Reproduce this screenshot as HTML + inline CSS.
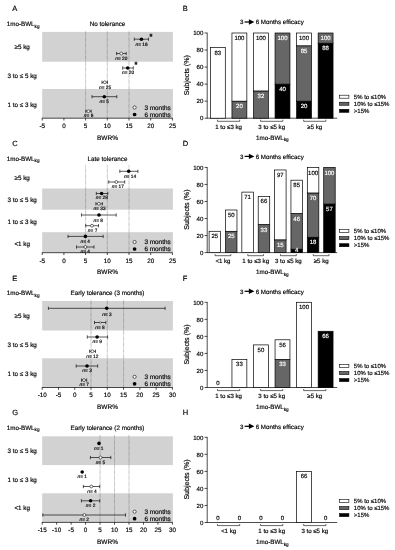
<!DOCTYPE html>
<html><head><meta charset="utf-8"><title>Figure</title>
<style>
html,body{margin:0;padding:0;background:#fff;}
svg{display:block;font-family:"Liberation Sans", Arial, sans-serif;text-rendering:geometricPrecision;}
text{stroke-width:0.16}
</style></head><body>
<svg width="395" height="550" viewBox="0 0 395 550">
<rect width="395" height="550" fill="#fff"/>
<text x="12.30" y="11.40" font-size="7.5" text-anchor="start" fill="#000" stroke="#000" >A</text>
<text x="6.80" y="26.30" font-size="6.25" text-anchor="start" stroke="#000">1mo-BWL<tspan font-size="4.6" dy="1.4">kg</tspan></text>
<text x="107.50" y="26.30" font-size="6.3" text-anchor="middle" fill="#000" stroke="#000" >No tolerance</text>
<rect x="42.20" y="31.90" width="130.70" height="29.80" fill="#d2d2d2"/>
<rect x="42.20" y="89.00" width="130.70" height="29.20" fill="#d2d2d2"/>
<text x="22.20" y="49.00" font-size="6.3" text-anchor="middle" fill="#000" stroke="#000" >≥5 kg</text>
<text x="22.20" y="78.40" font-size="6.3" text-anchor="middle" fill="#000" stroke="#000" >3 to ≤ 5 kg</text>
<text x="22.20" y="107.00" font-size="6.3" text-anchor="middle" fill="#000" stroke="#000" >1 to ≤ 3 kg</text>
<line x1="85.60" y1="30.80" x2="85.60" y2="118.20" stroke="#444" stroke-width="0.5" stroke-dasharray="0.6 0.6"/>
<line x1="107.30" y1="30.80" x2="107.30" y2="118.20" stroke="#444" stroke-width="0.5" stroke-dasharray="0.6 0.6"/>
<line x1="129.00" y1="30.80" x2="129.00" y2="118.20" stroke="#444" stroke-width="0.5" stroke-dasharray="0.6 0.6"/>
<line x1="41.90" y1="118.20" x2="172.70" y2="118.20" stroke="#000" stroke-width="0.7"/>
<line x1="42.20" y1="118.20" x2="42.20" y2="120.50" stroke="#000" stroke-width="0.7"/>
<text x="42.20" y="128.00" font-size="6.3" text-anchor="middle" fill="#000" stroke="#000" >-5</text>
<line x1="63.90" y1="118.20" x2="63.90" y2="120.50" stroke="#000" stroke-width="0.7"/>
<text x="63.90" y="128.00" font-size="6.3" text-anchor="middle" fill="#000" stroke="#000" >0</text>
<line x1="85.60" y1="118.20" x2="85.60" y2="120.50" stroke="#000" stroke-width="0.7"/>
<text x="85.60" y="128.00" font-size="6.3" text-anchor="middle" fill="#000" stroke="#000" >5</text>
<line x1="107.30" y1="118.20" x2="107.30" y2="120.50" stroke="#000" stroke-width="0.7"/>
<text x="107.30" y="128.00" font-size="6.3" text-anchor="middle" fill="#000" stroke="#000" >10</text>
<line x1="129.00" y1="118.20" x2="129.00" y2="120.50" stroke="#000" stroke-width="0.7"/>
<text x="129.00" y="128.00" font-size="6.3" text-anchor="middle" fill="#000" stroke="#000" >15</text>
<line x1="150.70" y1="118.20" x2="150.70" y2="120.50" stroke="#000" stroke-width="0.7"/>
<text x="150.70" y="128.00" font-size="6.3" text-anchor="middle" fill="#000" stroke="#000" >20</text>
<line x1="172.40" y1="118.20" x2="172.40" y2="120.50" stroke="#000" stroke-width="0.7"/>
<text x="172.40" y="128.00" font-size="6.3" text-anchor="middle" fill="#000" stroke="#000" >25</text>
<text x="107.50" y="139.60" font-size="6.5" text-anchor="middle" fill="#000" stroke="#000" >BWR%</text>
<path d="M134.30 39.20H148.50M134.30 37.55V40.85M148.50 37.55V40.85" stroke="#000" stroke-width="0.65" fill="none"/>
<circle cx="141.40" cy="39.20" r="1.8" fill="#000"/>
<text x="141.60" y="46.20" font-size="4.8" text-anchor="middle" stroke="#000"><tspan font-style="italic">n</tspan>= 16</text>
<text x="151.00" y="38.80" font-size="7.5" text-anchor="middle" fill="#000" stroke="#000" font-weight="bold">*</text>
<path d="M116.60 53.50H126.20M116.60 51.85V55.15M126.20 51.85V55.15" stroke="#000" stroke-width="0.65" fill="none"/>
<circle cx="121.30" cy="53.50" r="1.45" fill="#fff" stroke="#000" stroke-width="0.55"/>
<text x="121.40" y="59.80" font-size="4.8" text-anchor="middle" stroke="#000"><tspan font-style="italic">n</tspan>= 20</text>
<path d="M122.70 68.00H133.30M122.70 66.35V69.65M133.30 66.35V69.65" stroke="#000" stroke-width="0.65" fill="none"/>
<circle cx="127.70" cy="68.00" r="1.8" fill="#000"/>
<text x="128.10" y="74.10" font-size="4.8" text-anchor="middle" stroke="#000"><tspan font-style="italic">n</tspan>= 20</text>
<text x="135.90" y="67.40" font-size="7.5" text-anchor="middle" fill="#000" stroke="#000" font-weight="bold">*</text>
<path d="M102.00 82.30H107.40M102.00 80.65V83.95M107.40 80.65V83.95" stroke="#000" stroke-width="0.65" fill="none"/>
<circle cx="104.80" cy="82.30" r="1.45" fill="#fff" stroke="#000" stroke-width="0.55"/>
<text x="105.10" y="88.50" font-size="4.8" text-anchor="middle" stroke="#000"><tspan font-style="italic">n</tspan>= 25</text>
<path d="M92.00 96.70H116.80M92.00 95.05V98.35M116.80 95.05V98.35" stroke="#000" stroke-width="0.65" fill="none"/>
<circle cx="104.30" cy="96.70" r="1.8" fill="#000"/>
<text x="104.20" y="103.10" font-size="4.8" text-anchor="middle" stroke="#000"><tspan font-style="italic">n</tspan>= 5</text>
<path d="M85.90 111.20H91.20M85.90 109.55V112.85M91.20 109.55V112.85" stroke="#000" stroke-width="0.65" fill="none"/>
<circle cx="88.40" cy="111.20" r="1.45" fill="#fff" stroke="#000" stroke-width="0.55"/>
<text x="88.60" y="117.30" font-size="4.8" text-anchor="middle" stroke="#000"><tspan font-style="italic">n</tspan>= 6</text>
<circle cx="134.6" cy="107.50" r="1.6" fill="#fff" stroke="#000" stroke-width="0.6"/>
<circle cx="134.6" cy="114.50" r="1.85" fill="#000"/>
<text x="144.40" y="109.70" font-size="6.4" text-anchor="start" fill="#000" stroke="#000" >3 months</text>
<text x="144.40" y="116.80" font-size="6.4" text-anchor="start" fill="#000" stroke="#000" >6 months</text>
<text x="12.30" y="145.90" font-size="7.5" text-anchor="start" fill="#000" stroke="#000" >C</text>
<text x="6.80" y="160.80" font-size="6.25" text-anchor="start" stroke="#000">1mo-BWL<tspan font-size="4.6" dy="1.4">kg</tspan></text>
<text x="107.50" y="160.80" font-size="6.3" text-anchor="middle" fill="#000" stroke="#000" >Late tolerance</text>
<rect x="42.20" y="188.50" width="130.70" height="21.20" fill="#d2d2d2"/>
<rect x="42.20" y="232.20" width="130.70" height="20.50" fill="#d2d2d2"/>
<text x="22.20" y="179.70" font-size="6.3" text-anchor="middle" fill="#000" stroke="#000" >≥5 kg</text>
<text x="22.20" y="201.80" font-size="6.3" text-anchor="middle" fill="#000" stroke="#000" >3 to ≤ 5 kg</text>
<text x="22.20" y="224.40" font-size="6.3" text-anchor="middle" fill="#000" stroke="#000" >1 to ≤ 3 kg</text>
<text x="22.20" y="245.70" font-size="6.3" text-anchor="middle" fill="#000" stroke="#000" >&lt;1 kg</text>
<line x1="85.60" y1="165.40" x2="85.60" y2="252.70" stroke="#444" stroke-width="0.5" stroke-dasharray="0.6 0.6"/>
<line x1="107.30" y1="165.40" x2="107.30" y2="252.70" stroke="#444" stroke-width="0.5" stroke-dasharray="0.6 0.6"/>
<line x1="129.00" y1="165.40" x2="129.00" y2="252.70" stroke="#444" stroke-width="0.5" stroke-dasharray="0.6 0.6"/>
<line x1="41.90" y1="252.70" x2="172.70" y2="252.70" stroke="#000" stroke-width="0.7"/>
<line x1="42.20" y1="252.70" x2="42.20" y2="255.00" stroke="#000" stroke-width="0.7"/>
<text x="42.20" y="262.50" font-size="6.3" text-anchor="middle" fill="#000" stroke="#000" >-5</text>
<line x1="63.90" y1="252.70" x2="63.90" y2="255.00" stroke="#000" stroke-width="0.7"/>
<text x="63.90" y="262.50" font-size="6.3" text-anchor="middle" fill="#000" stroke="#000" >0</text>
<line x1="85.60" y1="252.70" x2="85.60" y2="255.00" stroke="#000" stroke-width="0.7"/>
<text x="85.60" y="262.50" font-size="6.3" text-anchor="middle" fill="#000" stroke="#000" >5</text>
<line x1="107.30" y1="252.70" x2="107.30" y2="255.00" stroke="#000" stroke-width="0.7"/>
<text x="107.30" y="262.50" font-size="6.3" text-anchor="middle" fill="#000" stroke="#000" >10</text>
<line x1="129.00" y1="252.70" x2="129.00" y2="255.00" stroke="#000" stroke-width="0.7"/>
<text x="129.00" y="262.50" font-size="6.3" text-anchor="middle" fill="#000" stroke="#000" >15</text>
<line x1="150.70" y1="252.70" x2="150.70" y2="255.00" stroke="#000" stroke-width="0.7"/>
<text x="150.70" y="262.50" font-size="6.3" text-anchor="middle" fill="#000" stroke="#000" >20</text>
<line x1="172.40" y1="252.70" x2="172.40" y2="255.00" stroke="#000" stroke-width="0.7"/>
<text x="172.40" y="262.50" font-size="6.3" text-anchor="middle" fill="#000" stroke="#000" >25</text>
<text x="107.50" y="274.10" font-size="6.5" text-anchor="middle" fill="#000" stroke="#000" >BWR%</text>
<path d="M119.80 171.30H137.90M119.80 169.65V172.95M137.90 169.65V172.95" stroke="#000" stroke-width="0.65" fill="none"/>
<circle cx="128.70" cy="171.30" r="1.8" fill="#000"/>
<text x="130.00" y="177.50" font-size="4.8" text-anchor="middle" stroke="#000"><tspan font-style="italic">n</tspan>= 14</text>
<path d="M108.70 182.00H124.70M108.70 180.35V183.65M124.70 180.35V183.65" stroke="#000" stroke-width="0.65" fill="none"/>
<circle cx="116.30" cy="182.00" r="1.45" fill="#fff" stroke="#000" stroke-width="0.55"/>
<text x="117.90" y="187.70" font-size="4.8" text-anchor="middle" stroke="#000"><tspan font-style="italic">n</tspan>= 17</text>
<path d="M96.30 193.50H107.80M96.30 191.85V195.15M107.80 191.85V195.15" stroke="#000" stroke-width="0.65" fill="none"/>
<circle cx="101.60" cy="193.50" r="1.8" fill="#000"/>
<text x="101.80" y="199.00" font-size="4.8" text-anchor="middle" stroke="#000"><tspan font-style="italic">n</tspan>= 28</text>
<path d="M95.90 203.80H102.40M95.90 202.15V205.45M102.40 202.15V205.45" stroke="#000" stroke-width="0.65" fill="none"/>
<circle cx="98.90" cy="203.80" r="1.45" fill="#fff" stroke="#000" stroke-width="0.55"/>
<text x="99.50" y="209.90" font-size="4.8" text-anchor="middle" stroke="#000"><tspan font-style="italic">n</tspan>= 33</text>
<path d="M81.50 215.00H116.20M81.50 213.35V216.65M116.20 213.35V216.65" stroke="#000" stroke-width="0.65" fill="none"/>
<circle cx="99.00" cy="215.00" r="1.8" fill="#000"/>
<text x="98.30" y="221.60" font-size="4.8" text-anchor="middle" stroke="#000"><tspan font-style="italic">n</tspan>= 8</text>
<path d="M85.70 225.70H98.50M85.70 224.05V227.35M98.50 224.05V227.35" stroke="#000" stroke-width="0.65" fill="none"/>
<circle cx="92.00" cy="225.70" r="1.45" fill="#fff" stroke="#000" stroke-width="0.55"/>
<text x="92.60" y="231.90" font-size="4.8" text-anchor="middle" stroke="#000"><tspan font-style="italic">n</tspan>= 7</text>
<path d="M68.00 236.40H103.20M68.00 234.75V238.05M103.20 234.75V238.05" stroke="#000" stroke-width="0.65" fill="none"/>
<circle cx="85.40" cy="236.40" r="1.8" fill="#000"/>
<text x="85.20" y="242.50" font-size="4.8" text-anchor="middle" stroke="#000"><tspan font-style="italic">n</tspan>= 4</text>
<path d="M76.50 247.00H94.00M76.50 245.35V248.65M94.00 245.35V248.65" stroke="#000" stroke-width="0.65" fill="none"/>
<circle cx="85.40" cy="247.00" r="1.45" fill="#fff" stroke="#000" stroke-width="0.55"/>
<text x="85.20" y="252.80" font-size="4.8" text-anchor="middle" stroke="#000"><tspan font-style="italic">n</tspan>= 4</text>
<circle cx="134.6" cy="242.00" r="1.6" fill="#fff" stroke="#000" stroke-width="0.6"/>
<circle cx="134.6" cy="249.00" r="1.85" fill="#000"/>
<text x="144.40" y="244.20" font-size="6.4" text-anchor="start" fill="#000" stroke="#000" >3 months</text>
<text x="144.40" y="251.30" font-size="6.4" text-anchor="start" fill="#000" stroke="#000" >6 months</text>
<text x="12.30" y="280.60" font-size="7.5" text-anchor="start" fill="#000" stroke="#000" >E</text>
<text x="6.80" y="295.40" font-size="6.25" text-anchor="start" stroke="#000">1mo-BWL<tspan font-size="4.6" dy="1.4">kg</tspan></text>
<text x="107.50" y="295.40" font-size="6.3" text-anchor="middle" fill="#000" stroke="#000" >Early tolerance (3 months)</text>
<rect x="42.20" y="301.00" width="130.70" height="29.50" fill="#d2d2d2"/>
<rect x="42.20" y="358.30" width="130.70" height="29.20" fill="#d2d2d2"/>
<text x="22.20" y="318.00" font-size="6.3" text-anchor="middle" fill="#000" stroke="#000" >≥5 kg</text>
<text x="22.20" y="347.20" font-size="6.3" text-anchor="middle" fill="#000" stroke="#000" >3 to ≤ 5 kg</text>
<text x="22.20" y="376.30" font-size="6.3" text-anchor="middle" fill="#000" stroke="#000" >1 to ≤ 3 kg</text>
<line x1="91.03" y1="299.80" x2="91.03" y2="387.50" stroke="#444" stroke-width="0.5" stroke-dasharray="0.6 0.6"/>
<line x1="107.30" y1="299.80" x2="107.30" y2="387.50" stroke="#444" stroke-width="0.5" stroke-dasharray="0.6 0.6"/>
<line x1="123.58" y1="299.80" x2="123.58" y2="387.50" stroke="#444" stroke-width="0.5" stroke-dasharray="0.6 0.6"/>
<line x1="41.90" y1="387.50" x2="172.70" y2="387.50" stroke="#000" stroke-width="0.7"/>
<line x1="42.20" y1="387.50" x2="42.20" y2="389.80" stroke="#000" stroke-width="0.7"/>
<text x="42.20" y="397.30" font-size="6.3" text-anchor="middle" fill="#000" stroke="#000" >-10</text>
<line x1="58.48" y1="387.50" x2="58.48" y2="389.80" stroke="#000" stroke-width="0.7"/>
<text x="58.48" y="397.30" font-size="6.3" text-anchor="middle" fill="#000" stroke="#000" >-5</text>
<line x1="74.75" y1="387.50" x2="74.75" y2="389.80" stroke="#000" stroke-width="0.7"/>
<text x="74.75" y="397.30" font-size="6.3" text-anchor="middle" fill="#000" stroke="#000" >0</text>
<line x1="91.03" y1="387.50" x2="91.03" y2="389.80" stroke="#000" stroke-width="0.7"/>
<text x="91.03" y="397.30" font-size="6.3" text-anchor="middle" fill="#000" stroke="#000" >5</text>
<line x1="107.30" y1="387.50" x2="107.30" y2="389.80" stroke="#000" stroke-width="0.7"/>
<text x="107.30" y="397.30" font-size="6.3" text-anchor="middle" fill="#000" stroke="#000" >10</text>
<line x1="123.58" y1="387.50" x2="123.58" y2="389.80" stroke="#000" stroke-width="0.7"/>
<text x="123.58" y="397.30" font-size="6.3" text-anchor="middle" fill="#000" stroke="#000" >15</text>
<line x1="139.85" y1="387.50" x2="139.85" y2="389.80" stroke="#000" stroke-width="0.7"/>
<text x="139.85" y="397.30" font-size="6.3" text-anchor="middle" fill="#000" stroke="#000" >20</text>
<line x1="156.12" y1="387.50" x2="156.12" y2="389.80" stroke="#000" stroke-width="0.7"/>
<text x="156.12" y="397.30" font-size="6.3" text-anchor="middle" fill="#000" stroke="#000" >25</text>
<line x1="172.40" y1="387.50" x2="172.40" y2="389.80" stroke="#000" stroke-width="0.7"/>
<text x="172.40" y="397.30" font-size="6.3" text-anchor="middle" fill="#000" stroke="#000" >30</text>
<text x="107.50" y="408.90" font-size="6.5" text-anchor="middle" fill="#000" stroke="#000" >BWR%</text>
<path d="M48.40 308.30H165.10M48.40 306.65V309.95M165.10 306.65V309.95" stroke="#000" stroke-width="0.65" fill="none"/>
<circle cx="106.70" cy="308.30" r="1.8" fill="#000"/>
<text x="106.90" y="315.70" font-size="4.8" text-anchor="middle" stroke="#000"><tspan font-style="italic">n</tspan>= 3</text>
<path d="M94.50 322.50H105.80M94.50 320.85V324.15M105.80 320.85V324.15" stroke="#000" stroke-width="0.65" fill="none"/>
<circle cx="100.10" cy="322.50" r="0.9" fill="#fff" stroke="#000" stroke-width="0.45"/>
<text x="100.00" y="329.00" font-size="4.8" text-anchor="middle" stroke="#000"><tspan font-style="italic">n</tspan>= 8</text>
<path d="M87.30 337.00H107.60M87.30 335.35V338.65M107.60 335.35V338.65" stroke="#000" stroke-width="0.65" fill="none"/>
<circle cx="97.10" cy="337.00" r="1.8" fill="#000"/>
<text x="97.30" y="343.10" font-size="4.8" text-anchor="middle" stroke="#000"><tspan font-style="italic">n</tspan>= 9</text>
<path d="M89.60 351.30H95.50M89.60 349.65V352.95M95.50 349.65V352.95" stroke="#000" stroke-width="0.65" fill="none"/>
<circle cx="92.40" cy="351.30" r="1.45" fill="#fff" stroke="#000" stroke-width="0.55"/>
<text x="92.30" y="357.60" font-size="4.8" text-anchor="middle" stroke="#000"><tspan font-style="italic">n</tspan>= 12</text>
<path d="M76.20 366.00H97.70M76.20 364.35V367.65M97.70 364.35V367.65" stroke="#000" stroke-width="0.65" fill="none"/>
<circle cx="87.00" cy="366.00" r="1.8" fill="#000"/>
<text x="87.10" y="372.20" font-size="4.8" text-anchor="middle" stroke="#000"><tspan font-style="italic">n</tspan>= 3</text>
<path d="M81.50 380.10H86.70M81.50 378.45V381.75M86.70 378.45V381.75" stroke="#000" stroke-width="0.65" fill="none"/>
<circle cx="84.00" cy="380.10" r="1.45" fill="#fff" stroke="#000" stroke-width="0.55"/>
<text x="84.30" y="386.40" font-size="4.8" text-anchor="middle" stroke="#000"><tspan font-style="italic">n</tspan>= 7</text>
<circle cx="134.6" cy="376.80" r="1.6" fill="#fff" stroke="#000" stroke-width="0.6"/>
<circle cx="134.6" cy="383.80" r="1.85" fill="#000"/>
<text x="144.40" y="379.00" font-size="6.4" text-anchor="start" fill="#000" stroke="#000" >3 months</text>
<text x="144.40" y="386.10" font-size="6.4" text-anchor="start" fill="#000" stroke="#000" >6 months</text>
<text x="12.30" y="414.70" font-size="7.5" text-anchor="start" fill="#000" stroke="#000" >G</text>
<text x="6.80" y="430.00" font-size="6.25" text-anchor="start" stroke="#000">1mo-BWL<tspan font-size="4.6" dy="1.4">kg</tspan></text>
<text x="107.50" y="430.00" font-size="6.3" text-anchor="middle" fill="#000" stroke="#000" >Early tolerance (2 months)</text>
<rect x="42.20" y="436.30" width="130.70" height="28.80" fill="#d2d2d2"/>
<rect x="42.20" y="493.30" width="130.70" height="29.10" fill="#d2d2d2"/>
<text x="22.20" y="453.10" font-size="6.3" text-anchor="middle" fill="#000" stroke="#000" >3 to ≤ 5 kg</text>
<text x="22.20" y="482.20" font-size="6.3" text-anchor="middle" fill="#000" stroke="#000" >1 to ≤ 3 kg</text>
<text x="22.20" y="510.40" font-size="6.3" text-anchor="middle" fill="#000" stroke="#000" >&lt;1 kg</text>
<line x1="100.07" y1="435.10" x2="100.07" y2="522.40" stroke="#444" stroke-width="0.5" stroke-dasharray="0.6 0.6"/>
<line x1="114.53" y1="435.10" x2="114.53" y2="522.40" stroke="#444" stroke-width="0.5" stroke-dasharray="0.6 0.6"/>
<line x1="129.00" y1="435.10" x2="129.00" y2="522.40" stroke="#444" stroke-width="0.5" stroke-dasharray="0.6 0.6"/>
<line x1="41.90" y1="522.40" x2="172.70" y2="522.40" stroke="#000" stroke-width="0.7"/>
<line x1="42.20" y1="522.40" x2="42.20" y2="524.70" stroke="#000" stroke-width="0.7"/>
<text x="42.20" y="532.20" font-size="6.3" text-anchor="middle" fill="#000" stroke="#000" >-15</text>
<line x1="56.67" y1="522.40" x2="56.67" y2="524.70" stroke="#000" stroke-width="0.7"/>
<text x="56.67" y="532.20" font-size="6.3" text-anchor="middle" fill="#000" stroke="#000" >-10</text>
<line x1="71.13" y1="522.40" x2="71.13" y2="524.70" stroke="#000" stroke-width="0.7"/>
<text x="71.13" y="532.20" font-size="6.3" text-anchor="middle" fill="#000" stroke="#000" >-5</text>
<line x1="85.60" y1="522.40" x2="85.60" y2="524.70" stroke="#000" stroke-width="0.7"/>
<text x="85.60" y="532.20" font-size="6.3" text-anchor="middle" fill="#000" stroke="#000" >0</text>
<line x1="100.07" y1="522.40" x2="100.07" y2="524.70" stroke="#000" stroke-width="0.7"/>
<text x="100.07" y="532.20" font-size="6.3" text-anchor="middle" fill="#000" stroke="#000" >5</text>
<line x1="114.53" y1="522.40" x2="114.53" y2="524.70" stroke="#000" stroke-width="0.7"/>
<text x="114.53" y="532.20" font-size="6.3" text-anchor="middle" fill="#000" stroke="#000" >10</text>
<line x1="129.00" y1="522.40" x2="129.00" y2="524.70" stroke="#000" stroke-width="0.7"/>
<text x="129.00" y="532.20" font-size="6.3" text-anchor="middle" fill="#000" stroke="#000" >15</text>
<line x1="143.47" y1="522.40" x2="143.47" y2="524.70" stroke="#000" stroke-width="0.7"/>
<text x="143.47" y="532.20" font-size="6.3" text-anchor="middle" fill="#000" stroke="#000" >20</text>
<line x1="157.93" y1="522.40" x2="157.93" y2="524.70" stroke="#000" stroke-width="0.7"/>
<text x="157.93" y="532.20" font-size="6.3" text-anchor="middle" fill="#000" stroke="#000" >25</text>
<line x1="172.40" y1="522.40" x2="172.40" y2="524.70" stroke="#000" stroke-width="0.7"/>
<text x="172.40" y="532.20" font-size="6.3" text-anchor="middle" fill="#000" stroke="#000" >30</text>
<text x="107.50" y="543.80" font-size="6.5" text-anchor="middle" fill="#000" stroke="#000" >BWR%</text>
<circle cx="99.00" cy="443.40" r="1.8" fill="#000"/>
<text x="98.70" y="450.30" font-size="4.8" text-anchor="middle" stroke="#000"><tspan font-style="italic">n</tspan>= 1</text>
<path d="M90.40 457.50H110.80M90.40 455.85V459.15M110.80 455.85V459.15" stroke="#000" stroke-width="0.65" fill="none"/>
<circle cx="100.50" cy="457.50" r="1.45" fill="#fff" stroke="#000" stroke-width="0.55"/>
<text x="100.40" y="464.00" font-size="4.8" text-anchor="middle" stroke="#000"><tspan font-style="italic">n</tspan>= 5</text>
<circle cx="82.20" cy="472.00" r="1.8" fill="#000"/>
<text x="82.20" y="478.10" font-size="4.8" text-anchor="middle" stroke="#000"><tspan font-style="italic">n</tspan>= 1</text>
<path d="M83.40 486.50H99.70M83.40 484.85V488.15M99.70 484.85V488.15" stroke="#000" stroke-width="0.65" fill="none"/>
<circle cx="91.30" cy="486.50" r="1.45" fill="#fff" stroke="#000" stroke-width="0.55"/>
<text x="92.00" y="492.90" font-size="4.8" text-anchor="middle" stroke="#000"><tspan font-style="italic">n</tspan>= 4</text>
<path d="M81.40 500.80H99.70M81.40 499.15V502.45M99.70 499.15V502.45" stroke="#000" stroke-width="0.65" fill="none"/>
<circle cx="90.60" cy="500.80" r="1.8" fill="#000"/>
<text x="90.60" y="507.00" font-size="4.8" text-anchor="middle" stroke="#000"><tspan font-style="italic">n</tspan>= 2</text>
<path d="M42.80 515.00H125.50M42.80 513.35V516.65M125.50 513.35V516.65" stroke="#000" stroke-width="0.65" fill="none"/>
<circle cx="84.40" cy="515.00" r="1.45" fill="#fff" stroke="#000" stroke-width="0.55"/>
<text x="84.20" y="521.30" font-size="4.8" text-anchor="middle" stroke="#000"><tspan font-style="italic">n</tspan>= 2</text>
<circle cx="134.6" cy="511.70" r="1.6" fill="#fff" stroke="#000" stroke-width="0.6"/>
<circle cx="134.6" cy="518.70" r="1.85" fill="#000"/>
<text x="144.40" y="513.90" font-size="6.4" text-anchor="start" fill="#000" stroke="#000" >3 months</text>
<text x="144.40" y="521.00" font-size="6.4" text-anchor="start" fill="#000" stroke="#000" >6 months</text>
<text x="182.80" y="11.40" font-size="7.5" text-anchor="start" fill="#000" stroke="#000" >B</text>
<text x="243.40" y="24.20" font-size="6.2" text-anchor="end" fill="#000" stroke="#000" >3</text>
<path d="M244.6 22.00H250.0" stroke="#000" stroke-width="1.25"/><path d="M248.9 19.30L254.4 22.00L248.9 24.70Z" fill="#000"/>
<text x="255.70" y="24.20" font-size="6.2" text-anchor="start" fill="#000" stroke="#000" >6 Months efficacy</text>
<line x1="207.2" y1="32.65" x2="207.2" y2="118.55" stroke="#000" stroke-width="0.7"/>
<line x1="204.60" y1="118.20" x2="207.20" y2="118.20" stroke="#000" stroke-width="0.7"/>
<text x="203.30" y="120.40" font-size="6.1" text-anchor="end" fill="#000" stroke="#000" >0</text>
<line x1="204.60" y1="101.16" x2="207.20" y2="101.16" stroke="#000" stroke-width="0.7"/>
<text x="203.30" y="103.36" font-size="6.1" text-anchor="end" fill="#000" stroke="#000" >20</text>
<line x1="204.60" y1="84.12" x2="207.20" y2="84.12" stroke="#000" stroke-width="0.7"/>
<text x="203.30" y="86.32" font-size="6.1" text-anchor="end" fill="#000" stroke="#000" >40</text>
<line x1="204.60" y1="67.08" x2="207.20" y2="67.08" stroke="#000" stroke-width="0.7"/>
<text x="203.30" y="69.28" font-size="6.1" text-anchor="end" fill="#000" stroke="#000" >60</text>
<line x1="204.60" y1="50.04" x2="207.20" y2="50.04" stroke="#000" stroke-width="0.7"/>
<text x="203.30" y="52.24" font-size="6.1" text-anchor="end" fill="#000" stroke="#000" >80</text>
<line x1="204.60" y1="33.00" x2="207.20" y2="33.00" stroke="#000" stroke-width="0.7"/>
<text x="203.30" y="35.20" font-size="6.1" text-anchor="end" fill="#000" stroke="#000" >100</text>
<text transform="translate(188.9 75.20) rotate(-90)" font-size="7.1" text-anchor="middle" stroke="#000">Subjects (%)</text>
<line x1="207.2" y1="118.20" x2="337.2" y2="118.20" stroke="#000" stroke-width="0.7"/>
<rect x="210.40" y="47.48" width="14.90" height="70.72" fill="#fff" stroke="#000" stroke-width="0.7"/>
<text x="217.85" y="54.58" font-size="6" text-anchor="middle" fill="#000" stroke="#000" >83</text>
<rect x="231.95" y="101.16" width="14.90" height="17.04" fill="#666666" stroke="#000" stroke-width="0.7"/>
<rect x="231.95" y="33.00" width="14.90" height="68.16" fill="#fff" stroke="#000" stroke-width="0.7"/>
<text x="239.40" y="108.26" font-size="6" text-anchor="middle" fill="#fff" stroke="#fff" >20</text>
<text x="239.40" y="40.10" font-size="6" text-anchor="middle" fill="#000" stroke="#000" >100</text>
<rect x="253.50" y="90.94" width="14.90" height="27.26" fill="#666666" stroke="#000" stroke-width="0.7"/>
<rect x="253.50" y="33.00" width="14.90" height="57.94" fill="#fff" stroke="#000" stroke-width="0.7"/>
<text x="260.95" y="98.04" font-size="6" text-anchor="middle" fill="#fff" stroke="#fff" >32</text>
<text x="260.95" y="40.10" font-size="6" text-anchor="middle" fill="#000" stroke="#000" >100</text>
<rect x="275.05" y="84.12" width="14.90" height="34.08" fill="#000" stroke="#000" stroke-width="0.7"/>
<rect x="275.05" y="33.00" width="14.90" height="51.12" fill="#666666" stroke="#000" stroke-width="0.7"/>
<text x="282.50" y="91.22" font-size="6" text-anchor="middle" fill="#fff" stroke="#fff" >40</text>
<text x="282.50" y="40.10" font-size="6" text-anchor="middle" fill="#fff" stroke="#fff" >100</text>
<rect x="296.60" y="101.16" width="14.90" height="17.04" fill="#000" stroke="#000" stroke-width="0.7"/>
<rect x="296.60" y="45.78" width="14.90" height="55.38" fill="#666666" stroke="#000" stroke-width="0.7"/>
<rect x="296.60" y="33.00" width="14.90" height="12.78" fill="#fff" stroke="#000" stroke-width="0.7"/>
<text x="304.05" y="108.26" font-size="6" text-anchor="middle" fill="#fff" stroke="#fff" >20</text>
<text x="304.05" y="52.88" font-size="6" text-anchor="middle" fill="#fff" stroke="#fff" >85</text>
<text x="304.05" y="40.10" font-size="6" text-anchor="middle" fill="#000" stroke="#000" >100</text>
<rect x="318.15" y="43.22" width="14.90" height="74.98" fill="#000" stroke="#000" stroke-width="0.7"/>
<rect x="318.15" y="33.00" width="14.90" height="10.22" fill="#666666" stroke="#000" stroke-width="0.7"/>
<text x="325.60" y="50.32" font-size="6" text-anchor="middle" fill="#fff" stroke="#fff" >88</text>
<text x="325.60" y="40.10" font-size="6" text-anchor="middle" fill="#fff" stroke="#fff" >100</text>
<path d="M217.45 119.70V121.30H239.70V119.70" stroke="#000" stroke-width="0.6" fill="none"/>
<text x="228.57" y="128.60" font-size="6.1" text-anchor="middle" fill="#000" stroke="#000" >1 to ≤3 kg</text>
<path d="M260.55 119.70V121.30H282.80V119.70" stroke="#000" stroke-width="0.6" fill="none"/>
<text x="271.68" y="128.60" font-size="6.1" text-anchor="middle" fill="#000" stroke="#000" >3 to ≤5 kg</text>
<path d="M303.65 119.70V121.30H325.90V119.70" stroke="#000" stroke-width="0.6" fill="none"/>
<text x="314.77" y="128.60" font-size="6.1" text-anchor="middle" fill="#000" stroke="#000" >≥5 kg</text>
<text x="272.30" y="139.90" font-size="6.25" text-anchor="middle" stroke="#000">1mo-BWL<tspan font-size="4.6" dy="1.4">kg</tspan></text>
<rect x="339.6" y="95.20" width="9.3" height="3.0" fill="#fff" stroke="#000" stroke-width="0.6"/>
<text x="353.80" y="98.90" font-size="6.0" text-anchor="start" fill="#000" stroke="#000" >5% to ≤10%</text>
<rect x="339.6" y="102.25" width="9.3" height="3.0" fill="#666666" stroke="#000" stroke-width="0.6"/>
<text x="353.80" y="105.95" font-size="6.0" text-anchor="start" fill="#000" stroke="#000" >10% to ≤15%</text>
<rect x="339.6" y="109.30" width="9.3" height="3.0" fill="#000" stroke="#000" stroke-width="0.6"/>
<text x="353.80" y="113.00" font-size="6.0" text-anchor="start" fill="#000" stroke="#000" >&gt;15%</text>
<text x="182.80" y="145.90" font-size="7.5" text-anchor="start" fill="#000" stroke="#000" >D</text>
<text x="243.40" y="158.60" font-size="6.2" text-anchor="end" fill="#000" stroke="#000" >3</text>
<path d="M244.6 156.40H250.0" stroke="#000" stroke-width="1.25"/><path d="M248.9 153.70L254.4 156.40L248.9 159.10Z" fill="#000"/>
<text x="255.70" y="158.60" font-size="6.2" text-anchor="start" fill="#000" stroke="#000" >6 Months efficacy</text>
<line x1="207.2" y1="167.05" x2="207.2" y2="252.95" stroke="#000" stroke-width="0.7"/>
<line x1="204.60" y1="252.60" x2="207.20" y2="252.60" stroke="#000" stroke-width="0.7"/>
<text x="203.30" y="254.80" font-size="6.1" text-anchor="end" fill="#000" stroke="#000" >0</text>
<line x1="204.60" y1="235.56" x2="207.20" y2="235.56" stroke="#000" stroke-width="0.7"/>
<text x="203.30" y="237.76" font-size="6.1" text-anchor="end" fill="#000" stroke="#000" >20</text>
<line x1="204.60" y1="218.52" x2="207.20" y2="218.52" stroke="#000" stroke-width="0.7"/>
<text x="203.30" y="220.72" font-size="6.1" text-anchor="end" fill="#000" stroke="#000" >40</text>
<line x1="204.60" y1="201.48" x2="207.20" y2="201.48" stroke="#000" stroke-width="0.7"/>
<text x="203.30" y="203.68" font-size="6.1" text-anchor="end" fill="#000" stroke="#000" >60</text>
<line x1="204.60" y1="184.44" x2="207.20" y2="184.44" stroke="#000" stroke-width="0.7"/>
<text x="203.30" y="186.64" font-size="6.1" text-anchor="end" fill="#000" stroke="#000" >80</text>
<line x1="204.60" y1="167.40" x2="207.20" y2="167.40" stroke="#000" stroke-width="0.7"/>
<text x="203.30" y="169.60" font-size="6.1" text-anchor="end" fill="#000" stroke="#000" >100</text>
<text transform="translate(188.9 209.60) rotate(-90)" font-size="7.1" text-anchor="middle" stroke="#000">Subjects (%)</text>
<line x1="207.2" y1="252.60" x2="337.2" y2="252.60" stroke="#000" stroke-width="0.7"/>
<rect x="209.10" y="231.30" width="11.50" height="21.30" fill="#fff" stroke="#000" stroke-width="0.7"/>
<text x="214.85" y="238.40" font-size="6" text-anchor="middle" fill="#000" stroke="#000" >25</text>
<rect x="225.47" y="231.30" width="11.50" height="21.30" fill="#666666" stroke="#000" stroke-width="0.7"/>
<rect x="225.47" y="210.00" width="11.50" height="21.30" fill="#fff" stroke="#000" stroke-width="0.7"/>
<text x="231.22" y="238.40" font-size="6" text-anchor="middle" fill="#fff" stroke="#fff" >25</text>
<text x="231.22" y="217.10" font-size="6" text-anchor="middle" fill="#000" stroke="#000" >50</text>
<rect x="241.84" y="192.11" width="11.50" height="60.49" fill="#fff" stroke="#000" stroke-width="0.7"/>
<text x="247.59" y="199.21" font-size="6" text-anchor="middle" fill="#000" stroke="#000" >71</text>
<rect x="258.21" y="224.48" width="11.50" height="28.12" fill="#666666" stroke="#000" stroke-width="0.7"/>
<rect x="258.21" y="196.37" width="11.50" height="28.12" fill="#fff" stroke="#000" stroke-width="0.7"/>
<text x="263.96" y="231.58" font-size="6" text-anchor="middle" fill="#fff" stroke="#fff" >33</text>
<text x="263.96" y="203.47" font-size="6" text-anchor="middle" fill="#000" stroke="#000" >66</text>
<rect x="274.58" y="239.82" width="11.50" height="12.78" fill="#666666" stroke="#000" stroke-width="0.7"/>
<rect x="274.58" y="169.96" width="11.50" height="69.86" fill="#fff" stroke="#000" stroke-width="0.7"/>
<text x="280.33" y="246.92" font-size="6" text-anchor="middle" fill="#fff" stroke="#fff" >15</text>
<text x="280.33" y="177.06" font-size="6" text-anchor="middle" fill="#000" stroke="#000" >97</text>
<rect x="290.95" y="249.19" width="11.50" height="3.41" fill="#000" stroke="#000" stroke-width="0.7"/>
<rect x="290.95" y="213.41" width="11.50" height="35.78" fill="#666666" stroke="#000" stroke-width="0.7"/>
<rect x="290.95" y="180.18" width="11.50" height="33.23" fill="#fff" stroke="#000" stroke-width="0.7"/>
<text x="296.70" y="252.00" font-size="6" text-anchor="middle" fill="#fff" stroke="#fff" >4</text>
<text x="296.70" y="220.51" font-size="6" text-anchor="middle" fill="#fff" stroke="#fff" >46</text>
<text x="296.70" y="187.28" font-size="6" text-anchor="middle" fill="#000" stroke="#000" >85</text>
<rect x="307.32" y="237.26" width="11.50" height="15.34" fill="#000" stroke="#000" stroke-width="0.7"/>
<rect x="307.32" y="192.96" width="11.50" height="44.30" fill="#666666" stroke="#000" stroke-width="0.7"/>
<rect x="307.32" y="167.40" width="11.50" height="25.56" fill="#fff" stroke="#000" stroke-width="0.7"/>
<text x="313.07" y="244.36" font-size="6" text-anchor="middle" fill="#fff" stroke="#fff" >18</text>
<text x="313.07" y="200.06" font-size="6" text-anchor="middle" fill="#fff" stroke="#fff" >70</text>
<text x="313.07" y="174.50" font-size="6" text-anchor="middle" fill="#000" stroke="#000" >100</text>
<rect x="323.69" y="204.04" width="11.50" height="48.56" fill="#000" stroke="#000" stroke-width="0.7"/>
<rect x="323.69" y="167.40" width="11.50" height="36.64" fill="#666666" stroke="#000" stroke-width="0.7"/>
<text x="329.44" y="211.14" font-size="6" text-anchor="middle" fill="#fff" stroke="#fff" >57</text>
<text x="329.44" y="174.50" font-size="6" text-anchor="middle" fill="#fff" stroke="#fff" >100</text>
<path d="M215.05 254.10V255.70H230.82V254.10" stroke="#000" stroke-width="0.6" fill="none"/>
<text x="222.94" y="263.00" font-size="6.1" text-anchor="middle" fill="#000" stroke="#000" >&lt;1 kg</text>
<path d="M247.79 254.10V255.70H263.56V254.10" stroke="#000" stroke-width="0.6" fill="none"/>
<text x="255.68" y="263.00" font-size="6.1" text-anchor="middle" fill="#000" stroke="#000" >1 to ≤3 kg</text>
<path d="M280.53 254.10V255.70H296.30V254.10" stroke="#000" stroke-width="0.6" fill="none"/>
<text x="288.41" y="263.00" font-size="6.1" text-anchor="middle" fill="#000" stroke="#000" >3 to ≤5 kg</text>
<path d="M313.27 254.10V255.70H329.04V254.10" stroke="#000" stroke-width="0.6" fill="none"/>
<text x="321.15" y="263.00" font-size="6.1" text-anchor="middle" fill="#000" stroke="#000" >≥5 kg</text>
<text x="272.30" y="274.30" font-size="6.25" text-anchor="middle" stroke="#000">1mo-BWL<tspan font-size="4.6" dy="1.4">kg</tspan></text>
<rect x="339.6" y="229.60" width="9.3" height="3.0" fill="#fff" stroke="#000" stroke-width="0.6"/>
<text x="353.80" y="233.30" font-size="6.0" text-anchor="start" fill="#000" stroke="#000" >5% to ≤10%</text>
<rect x="339.6" y="236.65" width="9.3" height="3.0" fill="#666666" stroke="#000" stroke-width="0.6"/>
<text x="353.80" y="240.35" font-size="6.0" text-anchor="start" fill="#000" stroke="#000" >10% to ≤15%</text>
<rect x="339.6" y="243.70" width="9.3" height="3.0" fill="#000" stroke="#000" stroke-width="0.6"/>
<text x="353.80" y="247.40" font-size="6.0" text-anchor="start" fill="#000" stroke="#000" >&gt;15%</text>
<text x="182.80" y="280.60" font-size="7.5" text-anchor="start" fill="#000" stroke="#000" >F</text>
<text x="243.40" y="293.50" font-size="6.2" text-anchor="end" fill="#000" stroke="#000" >3</text>
<path d="M244.6 291.30H250.0" stroke="#000" stroke-width="1.25"/><path d="M248.9 288.60L254.4 291.30L248.9 294.00Z" fill="#000"/>
<text x="255.70" y="293.50" font-size="6.2" text-anchor="start" fill="#000" stroke="#000" >6 Months efficacy</text>
<line x1="207.2" y1="301.95" x2="207.2" y2="387.85" stroke="#000" stroke-width="0.7"/>
<line x1="204.60" y1="387.50" x2="207.20" y2="387.50" stroke="#000" stroke-width="0.7"/>
<text x="203.30" y="389.70" font-size="6.1" text-anchor="end" fill="#000" stroke="#000" >0</text>
<line x1="204.60" y1="370.46" x2="207.20" y2="370.46" stroke="#000" stroke-width="0.7"/>
<text x="203.30" y="372.66" font-size="6.1" text-anchor="end" fill="#000" stroke="#000" >20</text>
<line x1="204.60" y1="353.42" x2="207.20" y2="353.42" stroke="#000" stroke-width="0.7"/>
<text x="203.30" y="355.62" font-size="6.1" text-anchor="end" fill="#000" stroke="#000" >40</text>
<line x1="204.60" y1="336.38" x2="207.20" y2="336.38" stroke="#000" stroke-width="0.7"/>
<text x="203.30" y="338.58" font-size="6.1" text-anchor="end" fill="#000" stroke="#000" >60</text>
<line x1="204.60" y1="319.34" x2="207.20" y2="319.34" stroke="#000" stroke-width="0.7"/>
<text x="203.30" y="321.54" font-size="6.1" text-anchor="end" fill="#000" stroke="#000" >80</text>
<line x1="204.60" y1="302.30" x2="207.20" y2="302.30" stroke="#000" stroke-width="0.7"/>
<text x="203.30" y="304.50" font-size="6.1" text-anchor="end" fill="#000" stroke="#000" >100</text>
<text transform="translate(188.9 344.50) rotate(-90)" font-size="7.1" text-anchor="middle" stroke="#000">Subjects (%)</text>
<line x1="207.2" y1="387.50" x2="337.2" y2="387.50" stroke="#000" stroke-width="0.7"/>
<text x="217.85" y="384.90" font-size="6" text-anchor="middle" fill="#000" stroke="#000" >0</text>
<rect x="231.95" y="359.38" width="14.90" height="28.12" fill="#fff" stroke="#000" stroke-width="0.7"/>
<text x="239.40" y="366.48" font-size="6" text-anchor="middle" fill="#000" stroke="#000" >33</text>
<rect x="253.50" y="344.90" width="14.90" height="42.60" fill="#fff" stroke="#000" stroke-width="0.7"/>
<text x="260.95" y="352.00" font-size="6" text-anchor="middle" fill="#000" stroke="#000" >50</text>
<rect x="275.05" y="359.38" width="14.90" height="28.12" fill="#666666" stroke="#000" stroke-width="0.7"/>
<rect x="275.05" y="339.79" width="14.90" height="19.60" fill="#fff" stroke="#000" stroke-width="0.7"/>
<text x="282.50" y="366.48" font-size="6" text-anchor="middle" fill="#fff" stroke="#fff" >33</text>
<text x="282.50" y="346.89" font-size="6" text-anchor="middle" fill="#000" stroke="#000" >56</text>
<rect x="296.60" y="302.30" width="14.90" height="85.20" fill="#fff" stroke="#000" stroke-width="0.7"/>
<text x="304.05" y="309.40" font-size="6" text-anchor="middle" fill="#000" stroke="#000" >100</text>
<rect x="318.15" y="331.27" width="14.90" height="56.23" fill="#000" stroke="#000" stroke-width="0.7"/>
<text x="325.60" y="338.37" font-size="6" text-anchor="middle" fill="#fff" stroke="#fff" >66</text>
<path d="M217.45 389.00V390.60H239.70V389.00" stroke="#000" stroke-width="0.6" fill="none"/>
<text x="228.57" y="397.90" font-size="6.1" text-anchor="middle" fill="#000" stroke="#000" >1 to ≤3 kg</text>
<path d="M260.55 389.00V390.60H282.80V389.00" stroke="#000" stroke-width="0.6" fill="none"/>
<text x="271.68" y="397.90" font-size="6.1" text-anchor="middle" fill="#000" stroke="#000" >3 to ≤5 kg</text>
<path d="M303.65 389.00V390.60H325.90V389.00" stroke="#000" stroke-width="0.6" fill="none"/>
<text x="314.77" y="397.90" font-size="6.1" text-anchor="middle" fill="#000" stroke="#000" >≥5 kg</text>
<text x="272.30" y="409.20" font-size="6.25" text-anchor="middle" stroke="#000">1mo-BWL<tspan font-size="4.6" dy="1.4">kg</tspan></text>
<rect x="339.6" y="364.50" width="9.3" height="3.0" fill="#fff" stroke="#000" stroke-width="0.6"/>
<text x="353.80" y="368.20" font-size="6.0" text-anchor="start" fill="#000" stroke="#000" >5% to ≤10%</text>
<rect x="339.6" y="371.55" width="9.3" height="3.0" fill="#666666" stroke="#000" stroke-width="0.6"/>
<text x="353.80" y="375.25" font-size="6.0" text-anchor="start" fill="#000" stroke="#000" >10% to ≤15%</text>
<rect x="339.6" y="378.60" width="9.3" height="3.0" fill="#000" stroke="#000" stroke-width="0.6"/>
<text x="353.80" y="382.30" font-size="6.0" text-anchor="start" fill="#000" stroke="#000" >&gt;15%</text>
<text x="182.80" y="414.70" font-size="7.5" text-anchor="start" fill="#000" stroke="#000" >H</text>
<text x="243.40" y="428.50" font-size="6.2" text-anchor="end" fill="#000" stroke="#000" >3</text>
<path d="M244.6 426.30H250.0" stroke="#000" stroke-width="1.25"/><path d="M248.9 423.60L254.4 426.30L248.9 429.00Z" fill="#000"/>
<text x="255.70" y="428.50" font-size="6.2" text-anchor="start" fill="#000" stroke="#000" >6 Months efficacy</text>
<line x1="207.2" y1="436.95" x2="207.2" y2="522.85" stroke="#000" stroke-width="0.7"/>
<line x1="204.60" y1="522.50" x2="207.20" y2="522.50" stroke="#000" stroke-width="0.7"/>
<text x="203.30" y="524.70" font-size="6.1" text-anchor="end" fill="#000" stroke="#000" >0</text>
<line x1="204.60" y1="505.46" x2="207.20" y2="505.46" stroke="#000" stroke-width="0.7"/>
<text x="203.30" y="507.66" font-size="6.1" text-anchor="end" fill="#000" stroke="#000" >20</text>
<line x1="204.60" y1="488.42" x2="207.20" y2="488.42" stroke="#000" stroke-width="0.7"/>
<text x="203.30" y="490.62" font-size="6.1" text-anchor="end" fill="#000" stroke="#000" >40</text>
<line x1="204.60" y1="471.38" x2="207.20" y2="471.38" stroke="#000" stroke-width="0.7"/>
<text x="203.30" y="473.58" font-size="6.1" text-anchor="end" fill="#000" stroke="#000" >60</text>
<line x1="204.60" y1="454.34" x2="207.20" y2="454.34" stroke="#000" stroke-width="0.7"/>
<text x="203.30" y="456.54" font-size="6.1" text-anchor="end" fill="#000" stroke="#000" >80</text>
<line x1="204.60" y1="437.30" x2="207.20" y2="437.30" stroke="#000" stroke-width="0.7"/>
<text x="203.30" y="439.50" font-size="6.1" text-anchor="end" fill="#000" stroke="#000" >100</text>
<text transform="translate(188.9 479.50) rotate(-90)" font-size="7.1" text-anchor="middle" stroke="#000">Subjects (%)</text>
<line x1="207.2" y1="522.50" x2="337.2" y2="522.50" stroke="#000" stroke-width="0.7"/>
<text x="217.85" y="519.90" font-size="6" text-anchor="middle" fill="#000" stroke="#000" >0</text>
<text x="239.40" y="519.90" font-size="6" text-anchor="middle" fill="#000" stroke="#000" >0</text>
<text x="260.95" y="519.90" font-size="6" text-anchor="middle" fill="#000" stroke="#000" >0</text>
<text x="282.50" y="519.90" font-size="6" text-anchor="middle" fill="#000" stroke="#000" >0</text>
<rect x="296.60" y="471.38" width="14.90" height="51.12" fill="#fff" stroke="#000" stroke-width="0.7"/>
<text x="304.05" y="478.48" font-size="6" text-anchor="middle" fill="#000" stroke="#000" >66</text>
<text x="325.60" y="519.90" font-size="6" text-anchor="middle" fill="#000" stroke="#000" >0</text>
<path d="M217.45 524.00V525.60H239.70V524.00" stroke="#000" stroke-width="0.6" fill="none"/>
<text x="228.57" y="532.90" font-size="6.1" text-anchor="middle" fill="#000" stroke="#000" >&lt;1 kg</text>
<path d="M260.55 524.00V525.60H282.80V524.00" stroke="#000" stroke-width="0.6" fill="none"/>
<text x="271.68" y="532.90" font-size="6.1" text-anchor="middle" fill="#000" stroke="#000" >1 to ≤3 kg</text>
<path d="M303.65 524.00V525.60H325.90V524.00" stroke="#000" stroke-width="0.6" fill="none"/>
<text x="314.77" y="532.90" font-size="6.1" text-anchor="middle" fill="#000" stroke="#000" >3 to ≤5 kg</text>
<text x="272.30" y="544.20" font-size="6.25" text-anchor="middle" stroke="#000">1mo-BWL<tspan font-size="4.6" dy="1.4">kg</tspan></text>
<rect x="339.6" y="499.50" width="9.3" height="3.0" fill="#fff" stroke="#000" stroke-width="0.6"/>
<text x="353.80" y="503.20" font-size="6.0" text-anchor="start" fill="#000" stroke="#000" >5% to ≤10%</text>
<rect x="339.6" y="506.55" width="9.3" height="3.0" fill="#666666" stroke="#000" stroke-width="0.6"/>
<text x="353.80" y="510.25" font-size="6.0" text-anchor="start" fill="#000" stroke="#000" >10% to ≤15%</text>
<rect x="339.6" y="513.60" width="9.3" height="3.0" fill="#000" stroke="#000" stroke-width="0.6"/>
<text x="353.80" y="517.30" font-size="6.0" text-anchor="start" fill="#000" stroke="#000" >&gt;15%</text>
</svg>
</body></html>
